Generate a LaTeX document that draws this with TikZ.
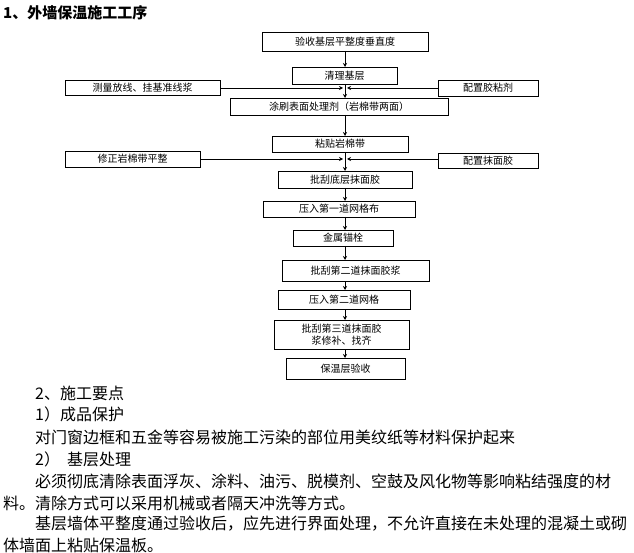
\documentclass[tikz,border=0pt]{standalone}
\usepackage{fontspec}
\newfontfamily\cjk{Noto Sans CJK SC}
\usetikzlibrary{arrows.meta}
\begin{document}
\begin{tikzpicture}[x=1pt,y=-1pt,
  bx/.style={draw,line width=0.8pt,inner sep=0pt,font=\cjk\fontsize{10}{11.5}\selectfont,align=center},
  tx/.style={anchor=west,inner sep=0pt,font=\cjk\fontsize{16}{17}\selectfont},
  ar/.style={-{Stealth[length=4pt,width=4pt]},line width=0.7pt}]
\useasboundingbox[fill=white] (0,0) rectangle (634,553);
\newcommand\bxat[6]{\node[bx,minimum width=#4-#2,minimum height=#5-#3] (#1) at ({(#2+#4)/2},{(#3+#5)/2}) {#6};}
\bxat{b1}{262}{32}{428}{51}{验收基层平整度垂直度}
\bxat{b2}{292}{67}{397}{84}{清理基层}
\bxat{l1}{65}{80}{220}{95}{测量放线、挂基准线浆}
\bxat{r1}{438}{80}{538}{96}{配置胶粘剂}
\bxat{b3}{230}{98}{448}{115}{涂刷表面处理剂（岩棉带两面）}
\bxat{b4}{272}{136}{408}{152}{粘贴岩棉带}
\bxat{l2}{65}{151}{200}{167}{修正岩棉带平整}
\bxat{r2}{438}{153}{538}{168}{配置抹面胶}
\bxat{b5}{278}{171}{412}{188}{批刮底层抹面胶}
\bxat{b6}{263}{201}{415}{217}{压入第一道网格布}
\bxat{b7}{293}{230}{393}{246}{金属锚栓}
\bxat{b8}{282}{260}{429}{281}{批刮第二道抹面胶浆}
\bxat{b9}{278}{290}{410}{309}{压入第二道网格}
\bxat{b10}{274}{320}{409}{349}{批刮第三道抹面胶\\浆修补、找齐}
\bxat{b11}{286}{358}{405}{379}{保温层验收}
\coordinate (ml1) at (343,88);
\coordinate (mr1) at (347,88);
\coordinate (ml2) at (343,159);
\coordinate (mr2) at (347,159);
\draw[ar] (345,51) -- (345,67);
\draw[line width=0.7pt] (345,84) -- (345,95);
\draw[ar] (345,95) -- (345,98);
\draw[ar] (l1.east |- ml1) -- (ml1);
\draw[ar] (r1.west |- mr1) -- (mr1);
\draw[ar] (345,115) -- (345,136);
\draw[line width=0.7pt] (345,152) -- (345,166);
\draw[ar] (345,166) -- (345,171);
\draw[ar] (l2.east |- ml2) -- (ml2);
\draw[ar] (r2.west |- mr2) -- (mr2);
\draw[ar] (345,188) -- (345,201);
\draw[ar] (345,217) -- (345,230);
\draw[ar] (345,246) -- (345,260);
\draw[ar] (345,281) -- (345,290);
\draw[ar] (345,309) -- (345,320);
\draw[ar] (345,349) -- (345,358);
\node[tx,font=\cjk\bfseries\fontsize{15}{16}\selectfont] (t0) at (3,13) {1、外墙保温施工工序};
\node[tx] (t1) at (35,393) {2、施工要点};
\node[tx] (t2) at (35,414) {1）成品保护};
\node[tx] (t3) at (35,437) {对门窗边框和五金等容易被施工污染的部位用美纹纸等材料保护起来};
\node[tx] (t4) at (35,459) {2）\ \ 基层处理};
\node[tx] (t5) at (35,481) {必须彻底清除表面浮灰、涂料、油污、脱模剂、空鼓及风化物等影响粘结强度的材};
\node[tx] (t6) at (3,503) {料。清除方式可以采用机械或者隔天冲洗等方式。};
\node[tx] (t7) at (35,524) {基层墙体平整度通过验收后，应先进行界面处理，不允许直接在未处理的混凝土或砌};
\node[tx] (t8) at (3,545) {体墙面上粘贴保温板。};
\end{tikzpicture}
\end{document}
